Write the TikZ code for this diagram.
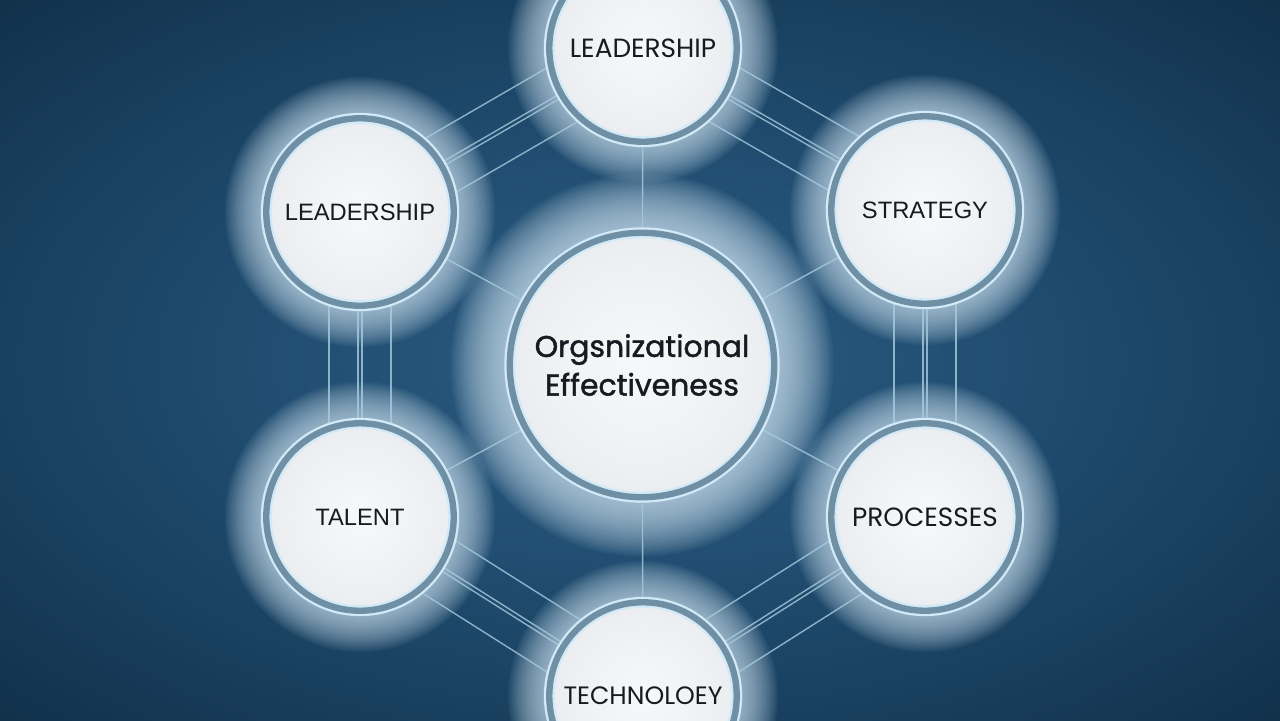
\documentclass[tikz,border=0pt]{standalone}
\usepackage{fontspec}
\setmainfont{Liberation Sans}
\newfontfamily\pop{Poppins}
\newfontfamily\popb[FakeBold=1.5]{Poppins}
\usetikzlibrary{calc}

\definecolor{bgA}{HTML}{2A5B80}
\definecolor{bgB}{HTML}{214E72}
\definecolor{bgC}{HTML}{173D5B}
\definecolor{bgD}{HTML}{0E2A42}
\definecolor{bgE}{HTML}{091C2E}
\definecolor{discA}{HTML}{F7F8F9}
\definecolor{discB}{HTML}{E8EBEE}
\definecolor{discC}{HTML}{CFD6DC}
\definecolor{ringband}{HTML}{6F8FA5}
\definecolor{ringlight}{HTML}{D2EAF7}
\definecolor{linkc}{HTML}{A8CCE0}
\definecolor{glowc}{HTML}{CFE4F2}
\definecolor{txt}{HTML}{171B21}

\pgfdeclareradialshading{bgshade}{\pgfpointorigin}{color(0bp)=(bgA); color(14bp)=(bgB); color(27bp)=(bgC); color(40bp)=(bgD); color(72bp)=(bgE)}
\pgfdeclareradialshading{discshade}{\pgfpointorigin}{color(0bp)=(discA); color(30bp)=(discB); color(50bp)=(discC)}

\pgfdeclarelayer{bg}
\pgfsetlayers{bg,main}

\begin{document}
\begin{tikzpicture}[x=0.02cm,y=-0.02cm,
  disc/.style={circle, inner sep=0pt, minimum size=3.75cm, shading=discshade,
    draw=ringlight, line width=1.3pt, double=ringband, double distance=3.6pt,
    text=txt, align=center},
  bigdisc/.style={disc, minimum size=5.29cm},
  link/.style={draw=linkc, line width=0.8pt, opacity=0.8},
  glowstep/.style={fill=glowc, opacity=0.055},
  lab/.style={font=\fontsize{13.5}{16}\selectfont},
  plab/.style={font=\pop\fontsize{15}{18}\selectfont},
]
\useasboundingbox (0,0) rectangle (1280,720);
\clip (0,0) rectangle (1280,720);

\node[disc, plab] (top) at (643,48) {LEADERSHIP};
\node[disc, lab] (ul) at (360,212) {LEADERSHIP};
\node[disc, lab] (ur) at (925,210) {STRATEGY};
\node[disc, lab] (ll) at (360,517) {TALENT};
\node[disc, plab] (lr) at (925,517) {PROCESSES};
\node[disc, font=\pop\fontsize{14.3}{18}\selectfont] (bot) at (643,696) {TECHNOLOEY};
\node[bigdisc, font=\popb\fontsize{17}{22}\selectfont] (c) at (642,365) {Orgsnizational\\Effectiveness};

\begin{pgfonlayer}{bg}
  \fill[shading=bgshade] (0,0) rectangle (1280,720);
  % soft glows: stacked translucent discs
  \foreach \n in {top,ul,ur,ll,lr,bot}{
    \foreach \k in {1,...,20}
      \fill[glowstep] (\n) circle[radius=1.98cm+0.036cm*\k];
  }
  \foreach \k in {1,...,24}
    \fill[glowstep] (c) circle[radius=2.75cm+0.045cm*\k];
  % spokes
  \foreach \n in {top,ul,ur,ll,lr,bot}
    \draw[link] (c) -- (\n);
  % bundles between neighbours
  \foreach \a/\b in {top/ul,top/ur,ul/ll,ur/lr,ll/bot,lr/bot}{
    \foreach \d in {0.62cm,-0.62cm,0.04cm,-0.04cm}
      \draw[link] ($(\a)!\d!90:(\b)$) -- ($(\b)!\d!-90:(\a)$);
  }
\end{pgfonlayer}
\end{tikzpicture}
\end{document}
